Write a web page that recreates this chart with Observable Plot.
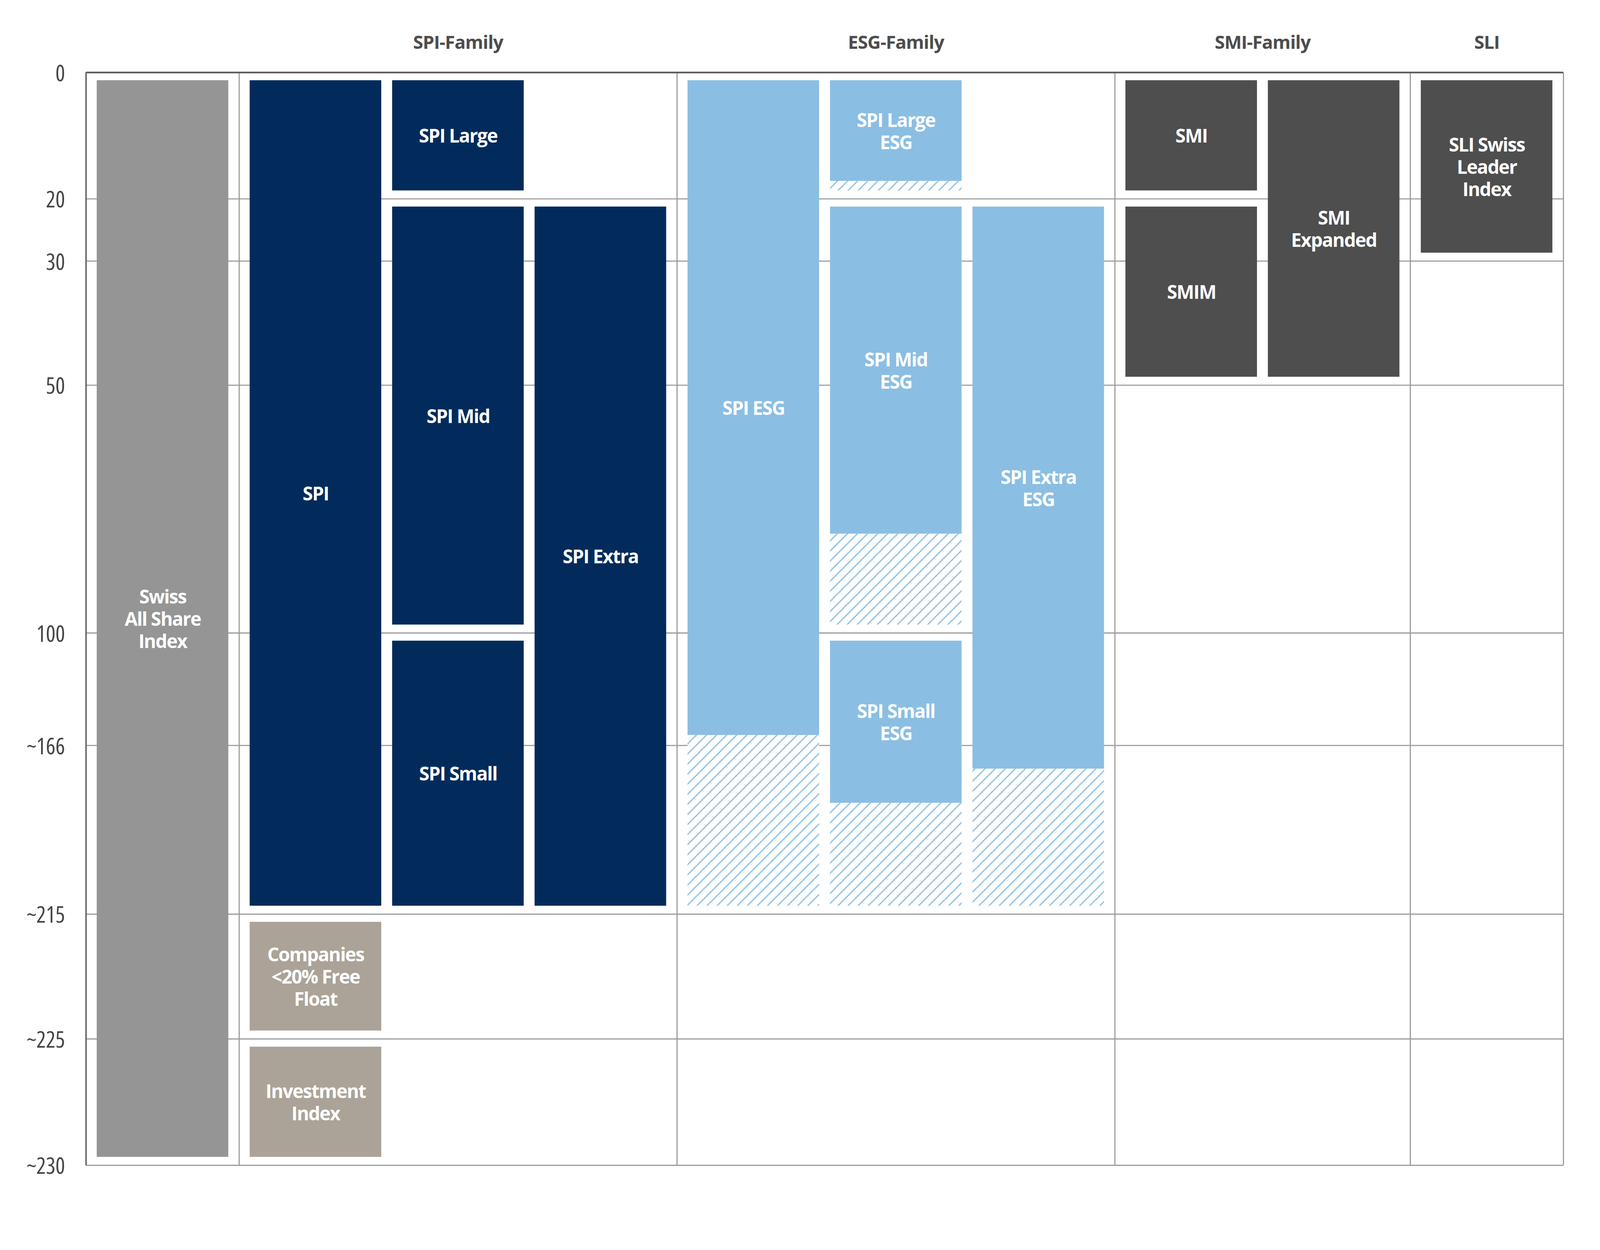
<!DOCTYPE html>
<html>
<head>
<meta charset="utf-8">
<script src="https://cdn.jsdelivr.net/npm/d3@7"></script>
<script src="https://cdn.jsdelivr.net/npm/@observablehq/plot@0.6"></script>
<style>
  html, body { margin: 0; padding: 0; background: #fff; overflow: hidden; }
  #chart svg g[aria-label="y-axis tick label"] text { font-stretch: 85%; }
</style>
</head>
<body>
<div id="chart"></div>
<script>
// ---------------- data ----------------
const families = ["", "SPI-Family", "ESG-Family", "SMI-Family", "SLI"];
const familyColumns = [1, 3, 3, 2, 1];

const yTicks = [0, 20, 30, 50, 100, 166, 215, 225, 230];
const yTickLabels = ["0", "20", "30", "50", "100", "~166", "~215", "~225", "~230"];

const indexNames = [
  "Swiss\nAll Share\nIndex", "SPI", "SPI Large", "SPI Mid", "SPI Small", "SPI Extra",
  "Companies\n<20% Free\nFloat", "Investment\nIndex",
  "SPI ESG", "SPI Large\nESG", "SPI Mid\nESG", "SPI Small\nESG", "SPI Extra\nESG",
  "SMI", "SMIM", "SMI\nExpanded", "SLI Swiss\nLeader\nIndex"
];
const indexColumn = [0, 1, 2, 2, 2, 3, 1, 1, 4, 5, 5, 5, 6, 7, 7, 8, 9];
const indexFrom   = [0, 0, 0, 20, 100, 20, 215, 225, 0, 0, 20, 100, 20, 0, 20, 0, 0];
const indexTo     = [230, 215, 20, 100, 215, 215, 225, 230, 215, 20, 100, 215, 215, 20, 50, 50, 30];
// ESG indices: rank reached by the eligible constituents (the rest is excluded, hatched)
const indexEligibleTo = [null, null, null, null, null, null, null, null, 160, 17.2, 80, 182.7, 172.8, null, null, null, null];
const indexGroup = ["All", "SPI", "SPI", "SPI", "SPI", "SPI", "Other", "Other",
  "ESG", "ESG", "ESG", "ESG", "ESG", "SMI", "SMI", "SMI", "SMI"];

const groupDomain = ["All", "SPI", "Other", "ESG", "SMI"];
const groupColors = ["#959595", "#022b5c", "#aba398", "#8bbee3", "#4e4e4e"];

// ---------------- layout ----------------
const W = 4268, H = 3200;
const margin = {top: 193, right: 98, bottom: 92, left: 229};
const yRange = [193, 530, 696, 1027, 1688, 1988, 2438, 2771, 3108];
const barW = 351 / 380;        // bar width in column steps
const famGap = 28 / 380;       // extra gap between families
const inTop = 21, inBottom = 22;

const famOfCol = [];
familyColumns.forEach((n, f) => { for (let i = 0; i < n; i++) famOfCol.push(f); });
const colX = k => k + famOfCol[k] * famGap;
const nCols = famOfCol.length;
const xDomain = [colX(0) - (1 - barW), colX(nCols - 1) + barW + (1 - barW)];

// family separators & title centres
const famFirstCol = familyColumns.map((n, f) => familyColumns.slice(0, f).reduce((a, b) => a + b, 0));
const separators = famFirstCol.slice(1).map(k => colX(k) - (1 - barW + famGap) / 2);
const famBounds = [xDomain[0], ...separators, xDomain[1]];
const titleRows = families.map((name, f) => ({name, x: (famBounds[f] + famBounds[f + 1]) / 2})).filter(d => d.name);

const yScaleOpts = {type: "linear", domain: yTicks, range: yRange};
const ys = Plot.scale({y: yScaleOpts});

const rows = indexNames.map((name, i) => {
  const x1 = colX(indexColumn[i]);
  const hatched = indexEligibleTo[i] != null;
  const solidEnd = hatched ? indexEligibleTo[i] : indexTo[i];
  const top = ys.apply(indexFrom[i]) + inTop;
  const bot = ys.apply(solidEnd) - (hatched ? 0 : inBottom);
  return {
    name, x1, x2: x1 + barW, xc: x1 + barW / 2,
    y1: indexFrom[i], y2: indexTo[i], ySolid: solidEnd,
    yLabel: ys.invert((top + bot) / 2),
    group: indexGroup[i], hatched
  };
});
const plain = rows.filter(d => !d.hatched);
const esg = rows.filter(d => d.hatched);

const chart = Plot.plot({
  width: W, height: H,
  marginTop: margin.top, marginRight: margin.right, marginBottom: margin.bottom, marginLeft: margin.left,
  style: {fontFamily: "'Open Sans', 'Noto Sans', sans-serif", background: "#fff"},
  x: {type: "linear", domain: xDomain, axis: null},
  y: {...yScaleOpts, axis: null},
  color: {type: "ordinal", domain: groupDomain, range: groupColors},
  marks: [
    Plot.ruleY(yTicks.slice(1), {stroke: "#9a9a9a", strokeWidth: 3}),
    Plot.ruleX([...separators, xDomain[1]], {y1: yTicks[0], y2: yTicks[yTicks.length - 1], stroke: "#9a9a9a", strokeWidth: 3}),
    Plot.ruleY([yTicks[0]], {stroke: "#5a5a5a", strokeWidth: 4.5}),
    Plot.ruleX([xDomain[0]], {y1: yTicks[0], y2: yTicks[yTicks.length - 1], stroke: "#666", strokeWidth: 4}),
    Plot.rectY(plain, {x1: "x1", x2: "x2", y1: "y1", y2: "y2", fill: "group", insetTop: inTop, insetBottom: inBottom}),
    Plot.rectY(esg, {x1: "x1", x2: "x2", y1: "y1", y2: "ySolid", fill: "group", insetTop: inTop}),
    Plot.rectY(esg, {x1: "x1", x2: "x2", y1: "ySolid", y2: "y2", fill: "url(#hatch)", insetBottom: inBottom}),
    Plot.text(rows, {x: "xc", y: "yLabel", text: "name", fill: "white", fontSize: 50, fontWeight: "bold", lineHeight: 1.19}),
    Plot.text(titleRows, {x: "x", text: "name", frameAnchor: "top", dy: -98, fontSize: 49, fontWeight: "bold", fill: "#4d4d4d"}),
    Plot.axisY({ticks: yTicks, tickFormat: d => yTickLabels[yTicks.indexOf(d)], tickSize: 0, tickPadding: 56, dy: 4, fontSize: 60, fill: "#454545", label: null})
  ]
});

d3.select(chart).insert("defs", ":first-child").html(
  `<pattern id="hatch" patternUnits="userSpaceOnUse" width="19" height="19" patternTransform="rotate(45)">
     <rect width="19" height="19" fill="#fff"></rect>
     <line x1="2" y1="0" x2="2" y2="19" stroke="#8bbee3" stroke-width="3.2"></line>
   </pattern>`
);

// tighter letter spacing, as in the reference's narrow face
const textGroups = d3.select(chart).selectAll('g[aria-label="text"]').nodes();
const tracking = ["-2px", "-1.2px"];
textGroups.forEach((g, i) => d3.select(g).style("letter-spacing", tracking[i] ?? "0"));

document.getElementById("chart").appendChild(chart);
</script>
</body>
</html>
